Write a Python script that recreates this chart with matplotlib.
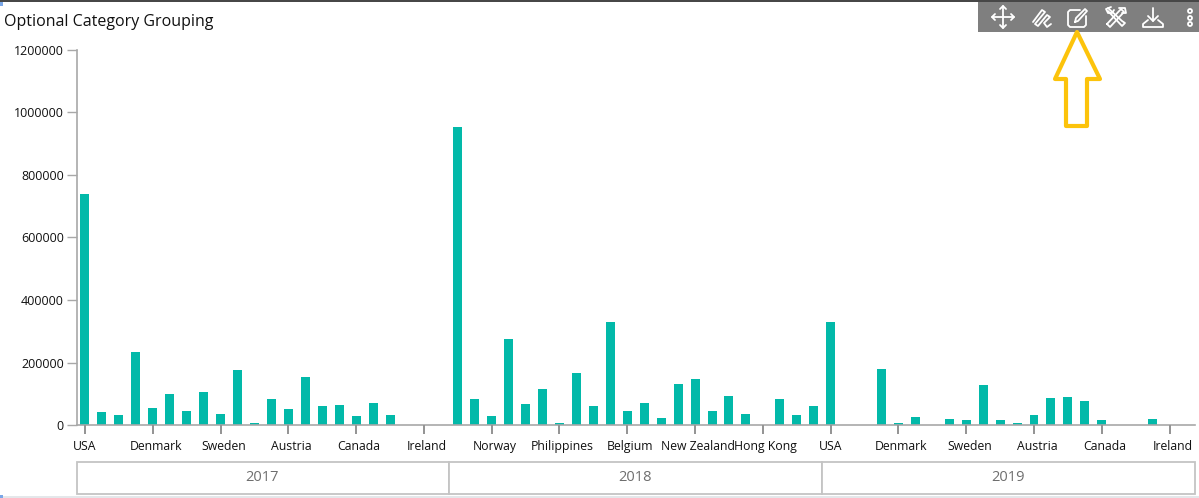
from __future__ import annotations

import matplotlib
matplotlib.use("Agg")
import matplotlib.pyplot as plt
from matplotlib.patches import Rectangle, Polygon, Circle
from matplotlib.transforms import blended_transform_factory

W, H = 1199, 498

plt.rcParams["font.family"] = ["Open Sans", "DejaVu Sans"]

years = ["2017", "2018", "2019"]
values_2017 = [740000, 42000, 33000, 233000, 54000, 100000, 44000, 105000, 35000, 175000, 6000,
               82000, 52000, 155000, 60000, 64000, 29000, 72000, 32000, 0, 0, 0]
values_2018 = [955000, 82000, 29000, 275000, 66000, 114000, 7500, 166000, 62000, 328000, 46000,
               70000, 23000, 131000, 148000, 44000, 92000, 34000, 0, 84000, 32000, 62000]
values_2019 = [328000, 0, 0, 178000, 6000, 26500, 0, 18000, 16000, 128000, 16000,
               6000, 33000, 85000, 89600, 76000, 17000, 0, 0, 19000, 0, 0]
tick_labels = ["USA", "Denmark", "Sweden", "Austria", "Canada", "Ireland",
               "Norway", "Philippines", "Belgium", "New Zealand", "Hong Kong",
               "USA", "Denmark", "Sweden", "Austria", "Canada", "Ireland"]
y_ticks = [0, 200000, 400000, 600000, 800000, 1000000, 1200000]

TEAL = "#02b9a9"
AXIS = "#a8a8a8"
TEXT = "#111111"


def draw_toolbar(ov) -> None:
    ov.add_patch(Rectangle((978, 2), 221, 30, color="#7f7f7f", lw=0))
    white = dict(color="white", lw=1.3, solid_capstyle="round", solid_joinstyle="round")

    # move
    ov.plot([992, 1014], [17, 17], **white)
    ov.plot([1003, 1003], [6, 28], **white)
    for xs, ys in [([995, 992, 995], [14, 17, 20]), ([1011, 1014, 1011], [14, 17, 20]),
                   ([1000, 1003, 1006], [9, 6, 9]), ([1000, 1003, 1006], [25, 28, 25])]:
        ov.plot(xs, ys, **white)

    # scribble
    ov.plot([1033, 1042, 1045, 1035, 1038, 1047, 1050, 1044, 1047, 1051],
            [22, 10, 12, 24, 26, 15, 17, 23, 27, 24], **white)

    # edit
    ov.plot([1080, 1070, 1068, 1068, 1070, 1084, 1086, 1086],
            [10, 10, 12, 25, 27, 27, 25, 16], **white)
    ov.plot([1075, 1076, 1085, 1087, 1078, 1075], [22, 18, 9, 11, 21, 22], **white)

    # tools
    ov.plot([1108, 1122, 1125, 1122, 1108], [11, 26, 23, 21, 8], **white)
    ov.plot([1107, 1110, 1124, 1121, 1107], [24, 27, 12, 9, 24], **white)
    ov.plot([1111, 1106, 1108, 1112, 1114], [7, 9, 13, 13, 10], **white)
    ov.plot([1119, 1125, 1126, 1122], [8, 8, 13, 13], **white)

    # download
    ov.plot([1153, 1153], [8, 21], **white)
    ov.plot([1148, 1153, 1158], [16, 21, 16], **white)
    ov.plot([1148, 1143, 1143, 1163, 1163, 1158], [20, 24, 27, 27, 24, 20], **white)

    # more
    for cy in (11, 18, 24):
        ov.add_patch(Circle((1190, cy), 2, fc="none", ec="white", lw=1.3))


def main() -> None:
    values = values_2017 + values_2018 + values_2019
    positions = [i + 0.5 for i in range(len(values))]
    group_size = len(values_2017)

    fig = plt.figure(figsize=(W / 100, H / 100), dpi=100)
    ax = fig.add_axes([76.5 / W, (H - 425) / H, (1195 - 76.5) / W, 375 / H])
    ax.set_facecolor("none")

    ax.bar(positions, values, width=0.53, color=TEAL)
    ax.set_xlim(0, len(values))
    ax.set_ylim(0, 1200000)

    ax.set_xticks(positions[::4])
    ax.set_xticklabels([])
    ax.set_yticks(y_ticks)
    ax.set_yticklabels([str(v) for v in y_ticks], fontsize=9, color=TEXT)
    ax.tick_params(axis="x", length=6.5, width=1.1, color="#8f8f8f")
    ax.tick_params(axis="y", length=7.2, width=1, color=AXIS, pad=2)

    # the x tick marks did not show up reliably, so draw them over the ticks as well
    tick_drop = 9 * 1200000 / 375
    ax.vlines(positions[::4], -tick_drop, 0, colors="#8f8f8f", lw=1.1, clip_on=False, zorder=5)

    # labels sit a little right of their ticks, the short USA ones do not
    for pos, name in zip(positions[::4], tick_labels):
        dx = 0 if name == "USA" else 2.2
        ax.annotate(name, (pos, 0), xytext=(dx, -15.8), textcoords="offset points",
                    ha="center", va="center", fontsize=8.8, color=TEXT, annotation_clip=False)

    for side in ("top", "right"):
        ax.spines[side].set_visible(False)
    for side in ("left", "bottom"):
        ax.spines[side].set_color(AXIS)
        ax.spines[side].set_linewidth(1.2)

    # year boxes under the axis
    trans = blended_transform_factory(ax.transData, fig.transFigure)
    box_y = (H - 494) / H
    box_h = 32.5 / H
    for i, year in enumerate(years):
        ax.add_patch(Rectangle((i * group_size, box_y), group_size, box_h, transform=trans,
                               fc="white", ec="#c4c4c4", lw=1.3, clip_on=False))
        ax.text((i + 0.5) * group_size - 0.05, box_y + box_h / 2, year, transform=trans,
                ha="center", va="center", fontsize=10.5, color="#6e6e6e")

    fig.text(4 / W, (H - 21.5) / H, "Optional Category Grouping", fontsize=11.55,
             color=TEXT, ha="left", va="center")

    # screenshot chrome in pixel coordinates, kept behind the chart axes
    ov = fig.add_axes([0, 0, 1, 1], facecolor="none", zorder=-1)
    ov.set_xlim(0, W)
    ov.set_ylim(H, 0)
    ov.axis("off")
    ov.add_patch(Rectangle((0, 0), W, 2, color="#474747", lw=0))
    ov.add_patch(Rectangle((0, 2), 3, 4, color="#7aa7e8", lw=0))
    ov.add_patch(Rectangle((0, 495), 3, 3, color="#7aa7e8", lw=0))
    ov.add_patch(Rectangle((3, 496), W, 2, color="#e4e7ea", lw=0))
    draw_toolbar(ov)

    ov.add_patch(Polygon([(1077, 32), (1100, 79), (1087, 79), (1087, 126), (1066, 126),
                          (1066, 79), (1055, 79)], closed=True, fc="none", ec="#fcc30b",
                         lw=3, joinstyle="round"))

    fig.savefig("out.png", dpi=100)
    plt.close(fig)


if __name__ == "__main__":
    main()
